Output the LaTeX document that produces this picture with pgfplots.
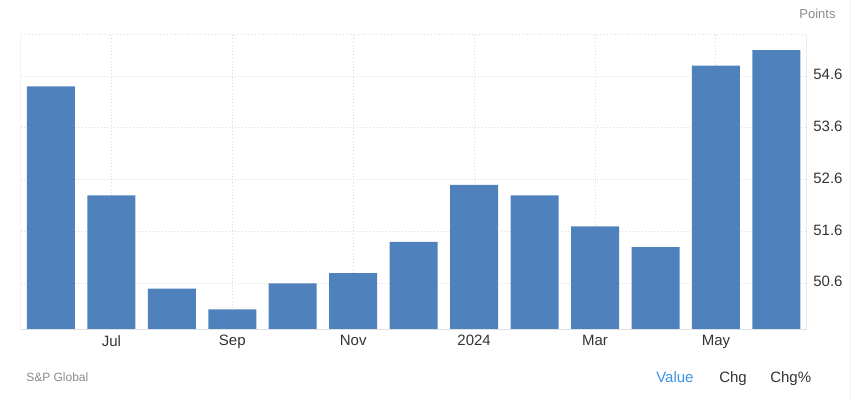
\documentclass[border=0pt]{standalone}
\usepackage{pgfplots}
\pgfplotsset{compat=1.18}
\usepackage{fontspec}
\setmainfont{Liberation Sans}
\definecolor{barblue}{HTML}{4F81BD}
\definecolor{gridc}{HTML}{D9D9D9}
\definecolor{axc}{HTML}{E0E0E0}
\definecolor{txt}{HTML}{333333}
\definecolor{graytxt}{HTML}{8A8A8A}
\definecolor{valblue}{HTML}{3D8FE6}
\begin{document}
\begin{tikzpicture}
\path[use as bounding box] (0,0) rectangle (644.25pt,299.25pt);
\draw[color=black!6, line width=0.75pt] (637.5pt,0) -- (637.5pt,299.25pt);
\begin{axis}[
  at={(15.5pt,51.75pt)}, anchor=south west,
  scale only axis, width=589.5pt, height=221.5pt,
  xmin=-0.5, xmax=12.5, ymin=49.7, ymax=55.4,
  ybar, bar width=36pt, bar shift=0pt,
  xtick={1,3,5,7,9,11},
  xticklabels={Jul,Sep,Nov,2024,Mar,May},
  ytick={50.6,51.6,52.6,53.6,54.6},
  yticklabel pos=right,
  yticklabel style={/pgf/number format/fixed,/pgf/number format/precision=1,/pgf/number format/fixed zerofill, anchor=west, xshift=1.5pt, yshift=1.2pt},
  /pgf/number format/assume math mode=true,
  ticklabel style={font=\fontsize{11.25}{13}\selectfont, text=txt},
  xticklabel style={yshift=-0.5pt},
  major tick length=0pt,
  tick style={draw=none},
  grid=major,
  major grid style={gridc, dotted, line width=0.75pt},
  axis line style={draw=none},
  clip=true,
]
\addplot[fill=barblue, draw=none] coordinates {
  (0,54.4) (1,52.3) (2,50.5) (3,50.1) (4,50.6) (5,50.8) (6,51.4)
  (7,52.5) (8,52.3) (9,51.7) (10,51.3) (11,54.8) (12,55.1)
};
\draw[gridc, dotted, line width=0.75pt] (rel axis cs:0,1) -- (rel axis cs:1,1);
\draw[axc, line width=0.9pt] (rel axis cs:0,0) -- (rel axis cs:1,0);
\draw[axc, line width=0.75pt] (rel axis cs:0,0) -- (rel axis cs:0,1);
\draw[axc, line width=0.75pt] (rel axis cs:1,0) -- (rel axis cs:1,1);
\end{axis}
\node[anchor=base, inner sep=0, text=graytxt, font=\fontsize{9.75}{11}\selectfont] at (613.1pt,285pt) {Points};
\node[anchor=base west, inner sep=0, text=graytxt, font=\fontsize{9}{11}\selectfont] at (19.5pt,13.3pt) {S\&P Global};
\node[anchor=base west, inner sep=0, text=valblue, font=\fontsize{11.25}{13}\selectfont] at (492pt,12.45pt) {Value};
\node[anchor=base west, inner sep=0, text=txt, font=\fontsize{11.25}{13}\selectfont] at (539.25pt,12.45pt) {Chg};
\node[anchor=base west, inner sep=0, text=txt, font=\fontsize{11.25}{13}\selectfont] at (577.5pt,12.45pt) {Chg\%};
\end{tikzpicture}
\end{document}
